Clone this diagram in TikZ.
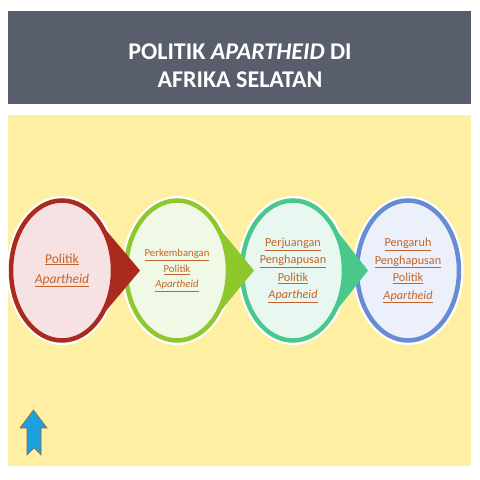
\documentclass[tikz,border=0pt]{standalone}
\usepackage{fontspec}
\setmainfont{Carlito}
\usetikzlibrary{shapes.geometric}

\definecolor{titlegray}{RGB}{88,94,108}
\definecolor{panelyellow}{RGB}{255,239,163}
\definecolor{linktext}{RGB}{196,100,40}
\definecolor{redline}{RGB}{170,42,30}
\definecolor{redfill}{RGB}{246,226,226}
\definecolor{greenline}{RGB}{142,200,44}
\definecolor{greenfill}{RGB}{240,248,230}
\definecolor{tealline}{RGB}{74,200,140}
\definecolor{tealfill}{RGB}{232,248,240}
\definecolor{blueline}{RGB}{104,140,210}
\definecolor{bluefill}{RGB}{236,240,250}
\definecolor{iconblue}{RGB}{28,160,222}
\definecolor{iconedge}{RGB}{150,100,60}

\newcommand{\lnk}[1]{\underline{#1}}

\tikzset{
    halo/.style={draw=white, line width=9pt},
    bubble/.style={ellipse, minimum width=102pt, minimum height=140pt,
        inner sep=0pt, line width=4.5pt, align=center, text=linktext}
}

\begin{document}
\begin{tikzpicture}[x=1pt,y=1pt]
    \useasboundingbox (0,0) rectangle (480,480);

    % title and panel
    \fill[titlegray] (8,376) rectangle (471,469);
    \node[text=white, align=center, font=\bfseries\fontsize{24}{28}\selectfont] (title) at (240,414)
        {POLITIK \textit{APARTHEID} DI\\AFRIKA SELATAN};
    \fill[panelyellow] (8,14) rectangle (471,365);

    \coordinate (p1) at (62,209.5);
    \coordinate (p2) at (177,209.5);
    \coordinate (p3) at (293,209.5);
    \coordinate (p4) at (408,209.5);

    % drawn from right to left so every point lies over the next bubble
    \draw[halo] (p4) ellipse [x radius=51, y radius=70];
    \node[bubble, draw=blueline, fill=bluefill, font=\fontsize{12.2}{17.5}\selectfont] (b4) at (p4)
        {\lnk{Pengaruh}\\\lnk{Penghapusan}\\\lnk{Politik}\\\lnk{\textit{Apartheid}}};

    \draw[halo] (p3) ellipse [x radius=51, y radius=70];
    \fill[tealline] (p3) ++(33.8,52.4) -- ++(41.2,-52.4) -- ++(-41.2,-52.4) -- cycle;
    \node[bubble, draw=tealline, fill=tealfill, font=\fontsize{12.2}{17.5}\selectfont] (b3) at (p3)
        {\lnk{Perjuangan}\\\lnk{Penghapusan}\\\lnk{Politik}\\\lnk{\textit{Apartheid}}};

    \draw[halo] (p2) ellipse [x radius=51, y radius=70];
    \fill[greenline] (p2) ++(33.8,52.4) -- ++(43.2,-52.4) -- ++(-43.2,-52.4) -- cycle;
    \node[bubble, draw=greenline, fill=greenfill, font=\fontsize{10.7}{15.5}\selectfont] (b2) at (p2)
        {\lnk{Perkembangan}\\\lnk{Politik}\\\lnk{\textit{Apartheid}}};

    \draw[halo] (p1) ellipse [x radius=51, y radius=70];
    \fill[redline] (p1) ++(33.8,52.4) -- ++(44.2,-52.4) -- ++(-44.2,-52.4) -- cycle;
    \node[bubble, draw=redline, fill=redfill, font=\fontsize{13.5}{20}\selectfont] (b1) at (p1)
        {\lnk{Politik}\\\lnk{\textit{Apartheid}}};

    % small up arrow
    \draw[fill=iconblue, draw=iconedge, line width=0.6pt]
        (33.5,70) -- (47,52) -- (41,52) -- (41,25) -- (34,32) -- (27,25) -- (27,52) -- (20,52) -- cycle;
\end{tikzpicture}
\end{document}
